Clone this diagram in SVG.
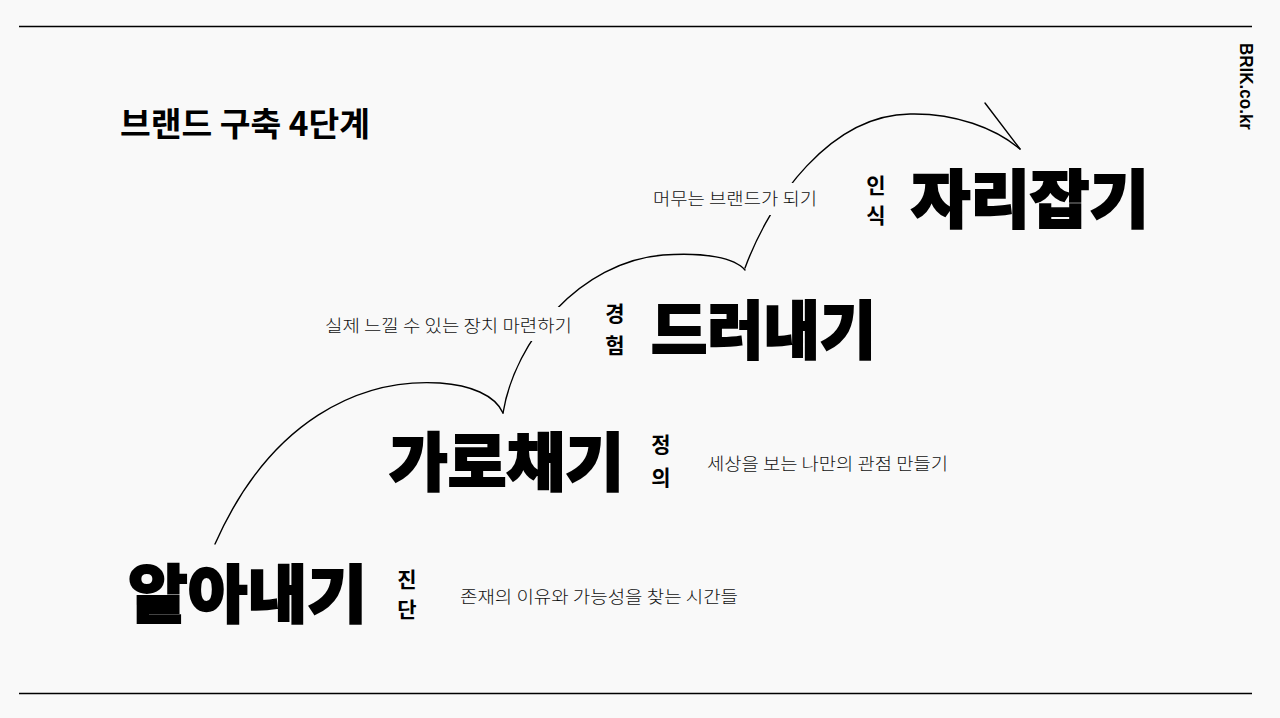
<svg xmlns="http://www.w3.org/2000/svg" width="1280" height="718" viewBox="0 0 1280 718">
  <defs>
    <style>
      .title { font-family: "Noto Sans CJK KR", "Noto Sans", sans-serif; font-weight: 900; font-size: 63px; fill: #000; stroke: #000; stroke-width: 1.8; stroke-linejoin: miter; }
      .tag { font-family: "Noto Sans CJK KR", "Noto Sans", sans-serif; font-weight: 700; font-size: 21px; fill: #000; text-anchor: middle; }
      .desc { font-family: "Noto Sans CJK KR", "Noto Sans", sans-serif; font-weight: 300; font-size: 17px; fill: #111; }
      .conn { fill: none; stroke: #000; stroke-width: 1.4; stroke-linecap: round; }
      .rule { stroke: #000; stroke-width: 1.5; }
    </style>
    <mask id="gap">
      <rect x="0" y="0" width="1280" height="718" fill="#fff"/>
      <rect x="318" y="307" width="262" height="34" fill="#000"/>
      <rect x="646" y="183" width="178" height="32" fill="#000"/>
    </mask>
  </defs>
  <rect width="1280" height="718" fill="#f9f9f9"/>
  <line class="rule" x1="19" y1="26.5" x2="1252" y2="26.5"/>
  <line class="rule" x1="19" y1="693.5" x2="1252" y2="693.5"/>

  <text id="heading" x="120" y="136" font-family="'Noto Sans CJK KR', 'Noto Sans', sans-serif" font-weight="600" font-size="33" fill="#000" textLength="250" lengthAdjust="spacingAndGlyphs">브랜드 구축 4단계</text>
  <text id="brand" transform="translate(1240,43) rotate(90)" font-family="'Liberation Sans', Arial, sans-serif" font-weight="700" font-size="18" fill="#000" textLength="87" lengthAdjust="spacingAndGlyphs">BRIK.co.kr</text>

  <g id="connectors" mask="url(#gap)">
    <path class="conn" d="M215,544 C270,420 360,378 440,383 C470,385 495,395 503,413"/>
    <path class="conn" d="M503,413 C515,340 580,262 663,255 C705,252 735,258 745,270"/>
    <path class="conn" d="M745,268 C770,200 830,115 910,114 C955,113 995,128 1020,149"/>
    <path class="conn" d="M985,103 L1020,149"/>
  </g>

  <g id="step4">
    <text class="title" x="911" y="222" textLength="238" lengthAdjust="spacingAndGlyphs">자리잡기</text>
    <text class="tag" x="876" y="193">인</text>
    <text class="tag" x="876" y="223">식</text>
    <text class="desc" x="653" y="205" textLength="164" lengthAdjust="spacingAndGlyphs">머무는 브랜드가 되기</text>
  </g>

  <g id="step3">
    <text class="title" x="651" y="353" textLength="225" lengthAdjust="spacingAndGlyphs">드러내기</text>
    <text class="tag" x="615" y="321">경</text>
    <text class="tag" x="615" y="353">험</text>
    <text class="desc" x="325" y="332" textLength="247" lengthAdjust="spacingAndGlyphs">실제 느낄 수 있는 장치 마련하기</text>
  </g>

  <g id="step2">
    <text class="title" x="389" y="485" textLength="235" lengthAdjust="spacingAndGlyphs">가로채기</text>
    <text class="tag" x="661" y="452">정</text>
    <text class="tag" x="661" y="485">의</text>
    <text class="desc" x="707" y="470" textLength="241" lengthAdjust="spacingAndGlyphs">세상을 보는 나만의 관점 만들기</text>
  </g>

  <g id="step1">
    <text class="title" x="128" y="617" textLength="239" lengthAdjust="spacingAndGlyphs">알아내기</text>
    <text class="tag" x="407" y="587">진</text>
    <text class="tag" x="407" y="617">단</text>
    <text class="desc" x="460" y="603" textLength="278" lengthAdjust="spacingAndGlyphs">존재의 이유와 가능성을 찾는 시간들</text>
  </g>
</svg>
